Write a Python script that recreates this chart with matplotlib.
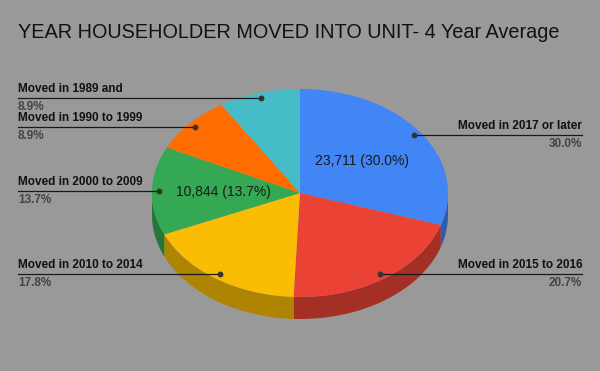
import numpy as np
import matplotlib.pyplot as plt
from matplotlib.colors import to_rgb

plt.rcParams['font.family'] = ['Liberation Sans', 'DejaVu Sans']

# chart data
categories = ['Moved in 2017 or later', 'Moved in 2015 to 2016', 'Moved in 2010 to 2014',
              'Moved in 2000 to 2009', 'Moved in 1990 to 1999', 'Moved in 1989 and']
values = [23711, 16361, 14069, 10844, 7034, 7034]
colors = ['#4285F4', '#EA4335', '#FBBC04', '#34A853', '#FF6D01', '#46BDC6']
inside_labels = [True, False, False, True, False, False]

bg = '#999999'
cx, cy, rx, ry, depth = 300, 193, 148, 104, 22


def pt(theta, f=1.0):
    # theta in degrees, clockwise from 12 o'clock
    t = np.radians(theta)
    return cx + rx * f * np.sin(t), cy - ry * f * np.cos(t)


def darker(c, k=0.7):
    return tuple(v * k for v in to_rgb(c))


fig = plt.figure(figsize=(6, 3.71), dpi=100, facecolor=bg)
ax = fig.add_axes([0, 0, 1, 1])
ax.set_xlim(0, 600)
ax.set_ylim(371, 0)
ax.axis('off')
ax.set_facecolor(bg)

total = sum(values)
fracs = [v / total for v in values]
starts = np.cumsum([0] + fracs[:-1]) * 360
ends = np.cumsum(fracs) * 360

# side walls (front half only)
for s, e, c in zip(starts, ends, colors):
    a0, a1 = max(s, 90), min(e, 270)
    if a1 <= a0:
        continue
    th = np.linspace(a0, a1, 80)
    xs, ys = pt(th)
    poly_x = np.concatenate([xs, xs[::-1]])
    poly_y = np.concatenate([ys, ys[::-1] + depth])
    ax.fill(poly_x, poly_y, color=darker(c), lw=0, zorder=1)

# top faces
for s, e, c in zip(starts, ends, colors):
    th = np.linspace(s, e, 120)
    xs, ys = pt(th)
    ax.fill(np.concatenate([[cx], xs]), np.concatenate([[cy], ys]), color=c, lw=0, zorder=2)

# inside value labels
for s, e, v, f, show in zip(starts, ends, values, fracs, inside_labels):
    if show:
        x, y = pt((s + e) / 2, 0.52)
        ax.text(x, y, f'{v:,} ({f * 100:.1f}%)', ha='center', va='center',
                fontsize=10, color='#1a1a1a', zorder=4)

# callout labels: text anchored at the figure edge
sides = ['right', 'right', 'left', 'left', 'left', 'left']
for side, name, s, e, f in zip(sides, categories, starts, ends, fracs):
    dx, dy = pt((s + e) / 2, 0.95)
    tx = 18 if side == 'left' else 582
    ax.plot([dx, tx], [dy, dy], color='#1a1a1a', lw=0.9, zorder=5)
    ax.plot(dx, dy, 'o', color='#333333', ms=3.2, zorder=6)
    ha = 'left' if side == 'left' else 'right'
    ax.text(tx, dy - 3, name, ha=ha, va='bottom', fontsize=8.5, fontweight='bold',
            color='#111111', zorder=6)
    ax.text(tx, dy + 3, f'{f * 100:.1f}%', ha=ha, va='top', fontsize=8.5,
            fontweight='bold', color='#444444', zorder=6)

ax.text(18, 33, 'YEAR HOUSEHOLDER MOVED INTO UNIT- 4 Year Average', ha='left',
        va='center', fontsize=14.3, color='#111111')

fig.savefig('out.png', dpi=100, facecolor=bg)
